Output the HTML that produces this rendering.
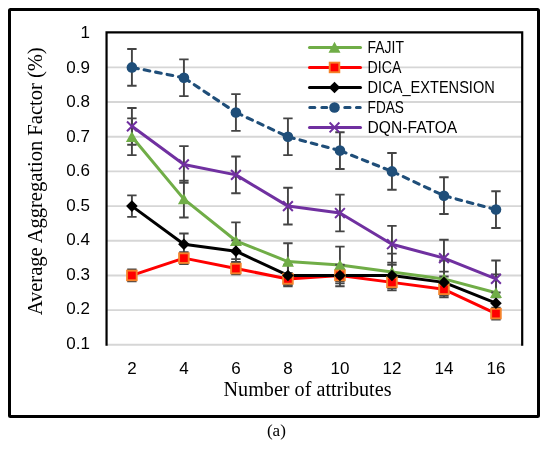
<!DOCTYPE html>
<html><head><meta charset="utf-8"><style>
html,body{margin:0;padding:0;background:#fff;}
svg{display:block;}
.t{font-family:"Liberation Sans",sans-serif;fill:#000;}
.s{font-family:"Liberation Serif",serif;fill:#000;}
</style></head><body>
<svg width="550" height="450" viewBox="0 0 550 450">
<rect width="550" height="450" fill="#fff"/>

<rect x="9.5" y="9.5" width="529" height="407" fill="none" stroke="#000" stroke-width="3" rx="1"/>
<path d="M106.5,344.80H522.2 M106.5,310.12H522.2 M106.5,275.44H522.2 M106.5,240.77H522.2 M106.5,206.09H522.2 M106.5,171.41H522.2 M106.5,136.73H522.2 M106.5,102.06H522.2 M106.5,67.38H522.2" stroke="#D6D6D6" stroke-width="1.9" fill="none"/>
<path d="M106.55,345.8 V32.35 H522.2 V345.8" stroke="#000" stroke-width="2.2" fill="none"/>
<text class="t" x="90" y="348.80" font-size="17" text-anchor="end">0.1</text>
<text class="t" x="90" y="314.29" font-size="17" text-anchor="end">0.2</text>
<text class="t" x="90" y="279.78" font-size="17" text-anchor="end">0.3</text>
<text class="t" x="90" y="245.27" font-size="17" text-anchor="end">0.4</text>
<text class="t" x="90" y="210.76" font-size="17" text-anchor="end">0.5</text>
<text class="t" x="90" y="176.24" font-size="17" text-anchor="end">0.6</text>
<text class="t" x="90" y="141.73" font-size="17" text-anchor="end">0.7</text>
<text class="t" x="90" y="107.22" font-size="17" text-anchor="end">0.8</text>
<text class="t" x="90" y="72.71" font-size="17" text-anchor="end">0.9</text>
<text class="t" x="90" y="38.20" font-size="17" text-anchor="end">1</text>
<text class="t" x="131.90" y="374" font-size="17" text-anchor="middle">2</text>
<text class="t" x="183.91" y="374" font-size="17" text-anchor="middle">4</text>
<text class="t" x="235.92" y="374" font-size="17" text-anchor="middle">6</text>
<text class="t" x="287.93" y="374" font-size="17" text-anchor="middle">8</text>
<text class="t" x="339.94" y="374" font-size="17" text-anchor="middle">10</text>
<text class="t" x="391.95" y="374" font-size="17" text-anchor="middle">12</text>
<text class="t" x="443.96" y="374" font-size="17" text-anchor="middle">14</text>
<text class="t" x="495.97" y="374" font-size="17" text-anchor="middle">16</text>
<text class="s" x="223.5" y="396.3" font-size="20" textLength="168" lengthAdjust="spacingAndGlyphs">Number of attributes</text>
<text class="s" transform="translate(42.4,315.3) rotate(-90)" x="0" y="0" font-size="20" textLength="268" lengthAdjust="spacingAndGlyphs">Average Aggregation Factor (%)</text>
<text class="s" x="276.4" y="436.2" font-size="16.6" text-anchor="middle" textLength="19" lengthAdjust="spacingAndGlyphs">(a)</text>
<polyline points="131.90,136.73 183.91,199.15 235.92,240.77 287.93,261.57 339.94,265.04 391.95,271.98 443.96,278.91 495.97,292.78" fill="none" stroke="#70AD47" stroke-width="3.0" stroke-linejoin="round"/>
<polyline points="131.90,275.44 183.91,258.11 235.92,268.51 287.93,278.91 339.94,275.44 391.95,282.38 443.96,289.32 495.97,313.59" fill="none" stroke="#FF0000" stroke-width="3.0" stroke-linejoin="round"/>
<polyline points="131.90,206.09 183.91,244.23 235.92,251.17 287.93,275.44 339.94,275.44 391.95,275.44 443.96,282.38 495.97,303.19" fill="none" stroke="#000000" stroke-width="3.0" stroke-linejoin="round"/>
<path d="M131.90,67.38L183.91,77.78 M183.91,77.78L235.92,112.46 M235.92,112.46L287.93,136.73 M287.93,136.73L339.94,150.60 M339.94,150.60L391.95,171.41 M391.95,171.41L443.96,195.69 M443.96,195.69L495.97,209.56" fill="none" stroke="#1F4E79" stroke-width="3.1" stroke-linecap="round" stroke-dasharray="5.7 6" stroke-dashoffset="-0.8"/>
<polyline points="131.90,126.33 183.91,164.48 235.92,174.88 287.93,206.09 339.94,213.02 391.95,244.23 443.96,258.11 495.97,278.91" fill="none" stroke="#7030A0" stroke-width="3.0" stroke-linejoin="round"/>
<path d="M131.90,118.35V155.11M127.20,118.35H136.60M127.20,155.11H136.60 M183.91,180.77V217.53M179.21,180.77H188.61M179.21,217.53H188.61 M235.92,222.39V259.15M231.22,222.39H240.62M231.22,259.15H240.62 M287.93,243.19V279.95M283.23,243.19H292.63M283.23,279.95H292.63 M339.94,246.66V283.42M335.24,246.66H344.64M335.24,283.42H344.64 M391.95,253.60V290.36M387.25,253.60H396.65M387.25,290.36H396.65 M443.96,260.53V297.29M439.26,260.53H448.66M439.26,297.29H448.66 M495.97,274.40V311.16M491.27,274.40H500.67M491.27,311.16H500.67" stroke="#444444" stroke-width="1.9" fill="none"/>
<path d="M131.90,269.55V281.34M127.20,269.55H136.60M127.20,281.34H136.60 M183.91,252.21V264.00M179.21,252.21H188.61M179.21,264.00H188.61 M235.92,262.61V274.40M231.22,262.61H240.62M231.22,274.40H240.62 M287.93,273.02V284.81M283.23,273.02H292.63M283.23,284.81H292.63 M339.94,269.55V281.34M335.24,269.55H344.64M335.24,281.34H344.64 M391.95,276.48V288.28M387.25,276.48H396.65M387.25,288.28H396.65 M443.96,283.42V295.21M439.26,283.42H448.66M439.26,295.21H448.66 M495.97,307.69V319.49M491.27,307.69H500.67M491.27,319.49H500.67" stroke="#444444" stroke-width="1.9" fill="none"/>
<path d="M131.90,195.34V216.84M127.20,195.34H136.60M127.20,216.84H136.60 M183.91,233.48V254.98M179.21,233.48H188.61M179.21,254.98H188.61 M235.92,240.42V261.92M231.22,240.42H240.62M231.22,261.92H240.62 M287.93,264.69V286.19M283.23,264.69H292.63M283.23,286.19H292.63 M339.94,264.69V286.19M335.24,264.69H344.64M335.24,286.19H344.64 M391.95,264.69V286.19M387.25,264.69H396.65M387.25,286.19H396.65 M443.96,271.63V293.13M439.26,271.63H448.66M439.26,293.13H448.66 M495.97,292.44V313.94M491.27,292.44H500.67M491.27,313.94H500.67" stroke="#444444" stroke-width="1.9" fill="none"/>
<path d="M131.90,49.00V85.76M127.20,49.00H136.60M127.20,85.76H136.60 M183.91,59.40V96.16M179.21,59.40H188.61M179.21,96.16H188.61 M235.92,94.08V130.84M231.22,94.08H240.62M231.22,130.84H240.62 M287.93,118.35V155.11M283.23,118.35H292.63M283.23,155.11H292.63 M339.94,132.23V168.98M335.24,132.23H344.64M335.24,168.98H344.64 M391.95,153.03V189.79M387.25,153.03H396.65M387.25,189.79H396.65 M443.96,177.31V214.06M439.26,177.31H448.66M439.26,214.06H448.66 M495.97,191.18V227.94M491.27,191.18H500.67M491.27,227.94H500.67" stroke="#444444" stroke-width="1.9" fill="none"/>
<path d="M131.90,107.95V144.71M127.20,107.95H136.60M127.20,144.71H136.60 M183.91,146.10V182.85M179.21,146.10H188.61M179.21,182.85H188.61 M235.92,156.50V193.26M231.22,156.50H240.62M231.22,193.26H240.62 M287.93,187.71V224.47M283.23,187.71H292.63M283.23,224.47H292.63 M339.94,194.65V231.40M335.24,194.65H344.64M335.24,231.40H344.64 M391.95,225.86V262.61M387.25,225.86H396.65M387.25,262.61H396.65 M443.96,239.73V276.48M439.26,239.73H448.66M439.26,276.48H448.66 M495.97,260.53V297.29M491.27,260.53H500.67M491.27,297.29H500.67" stroke="#444444" stroke-width="1.9" fill="none"/>
<path d="M131.90,131.13 L137.90,141.93 L125.90,141.93 Z" fill="#70AD47"/>
<path d="M183.91,193.55 L189.91,204.35 L177.91,204.35 Z" fill="#70AD47"/>
<path d="M235.92,235.17 L241.92,245.97 L229.92,245.97 Z" fill="#70AD47"/>
<path d="M287.93,255.97 L293.93,266.77 L281.93,266.77 Z" fill="#70AD47"/>
<path d="M339.94,259.44 L345.94,270.24 L333.94,270.24 Z" fill="#70AD47"/>
<path d="M391.95,266.38 L397.95,277.18 L385.95,277.18 Z" fill="#70AD47"/>
<path d="M443.96,273.31 L449.96,284.11 L437.96,284.11 Z" fill="#70AD47"/>
<path d="M495.97,287.18 L501.97,297.98 L489.97,297.98 Z" fill="#70AD47"/>
<rect x="127.10" y="270.64" width="9.6" height="9.6" fill="#FF0000" stroke="#F5822A" stroke-width="1.9"/>
<rect x="179.11" y="253.31" width="9.6" height="9.6" fill="#FF0000" stroke="#F5822A" stroke-width="1.9"/>
<rect x="231.12" y="263.71" width="9.6" height="9.6" fill="#FF0000" stroke="#F5822A" stroke-width="1.9"/>
<rect x="283.13" y="274.11" width="9.6" height="9.6" fill="#FF0000" stroke="#F5822A" stroke-width="1.9"/>
<rect x="335.14" y="270.64" width="9.6" height="9.6" fill="#FF0000" stroke="#F5822A" stroke-width="1.9"/>
<rect x="387.15" y="277.58" width="9.6" height="9.6" fill="#FF0000" stroke="#F5822A" stroke-width="1.9"/>
<rect x="439.16" y="284.52" width="9.6" height="9.6" fill="#FF0000" stroke="#F5822A" stroke-width="1.9"/>
<rect x="491.17" y="308.79" width="9.6" height="9.6" fill="#FF0000" stroke="#F5822A" stroke-width="1.9"/>
<path d="M131.90,200.29 L137.70,206.09 L131.90,211.89 L126.10,206.09 Z" fill="#000000"/>
<path d="M183.91,238.43 L189.71,244.23 L183.91,250.03 L178.11,244.23 Z" fill="#000000"/>
<path d="M235.92,245.37 L241.72,251.17 L235.92,256.97 L230.12,251.17 Z" fill="#000000"/>
<path d="M287.93,269.64 L293.73,275.44 L287.93,281.24 L282.13,275.44 Z" fill="#000000"/>
<path d="M339.94,269.64 L345.74,275.44 L339.94,281.24 L334.14,275.44 Z" fill="#000000"/>
<path d="M391.95,269.64 L397.75,275.44 L391.95,281.24 L386.15,275.44 Z" fill="#000000"/>
<path d="M443.96,276.58 L449.76,282.38 L443.96,288.18 L438.16,282.38 Z" fill="#000000"/>
<path d="M495.97,297.39 L501.77,303.19 L495.97,308.99 L490.17,303.19 Z" fill="#000000"/>
<circle cx="131.90" cy="67.38" r="5.3" fill="#1F4E79"/>
<circle cx="183.91" cy="77.78" r="5.3" fill="#1F4E79"/>
<circle cx="235.92" cy="112.46" r="5.3" fill="#1F4E79"/>
<circle cx="287.93" cy="136.73" r="5.3" fill="#1F4E79"/>
<circle cx="339.94" cy="150.60" r="5.3" fill="#1F4E79"/>
<circle cx="391.95" cy="171.41" r="5.3" fill="#1F4E79"/>
<circle cx="443.96" cy="195.69" r="5.3" fill="#1F4E79"/>
<circle cx="495.97" cy="209.56" r="5.3" fill="#1F4E79"/>
<path d="M127.00,121.43 L136.80,131.23 M136.80,121.43 L127.00,131.23" stroke="#7030A0" stroke-width="2" fill="none"/>
<path d="M179.01,159.58 L188.81,169.38 M188.81,159.58 L179.01,169.38" stroke="#7030A0" stroke-width="2" fill="none"/>
<path d="M231.02,169.98 L240.82,179.78 M240.82,169.98 L231.02,179.78" stroke="#7030A0" stroke-width="2" fill="none"/>
<path d="M283.03,201.19 L292.83,210.99 M292.83,201.19 L283.03,210.99" stroke="#7030A0" stroke-width="2" fill="none"/>
<path d="M335.04,208.12 L344.84,217.92 M344.84,208.12 L335.04,217.92" stroke="#7030A0" stroke-width="2" fill="none"/>
<path d="M387.05,239.33 L396.85,249.13 M396.85,239.33 L387.05,249.13" stroke="#7030A0" stroke-width="2" fill="none"/>
<path d="M439.06,253.21 L448.86,263.01 M448.86,253.21 L439.06,263.01" stroke="#7030A0" stroke-width="2" fill="none"/>
<path d="M491.07,274.01 L500.87,283.81 M500.87,274.01 L491.07,283.81" stroke="#7030A0" stroke-width="2" fill="none"/>
<line x1="309.5" y1="47.45" x2="360.5" y2="47.45" stroke="#70AD47" stroke-width="3.0" stroke-linecap="round"/>
<path d="M334.50,41.85 L340.50,52.65 L328.50,52.65 Z" fill="#70AD47"/>
<text class="t" x="367.6" y="52.55" font-size="16.5" textLength="36.3" lengthAdjust="spacingAndGlyphs">FAJIT</text>
<line x1="309.5" y1="67.45" x2="360.5" y2="67.45" stroke="#FF0000" stroke-width="3.0" stroke-linecap="round"/>
<rect x="329.70" y="62.65" width="9.6" height="9.6" fill="#FF0000" stroke="#F5822A" stroke-width="1.9"/>
<text class="t" x="367.6" y="72.55" font-size="16.5" textLength="33.8" lengthAdjust="spacingAndGlyphs">DICA</text>
<line x1="309.5" y1="87.45" x2="360.5" y2="87.45" stroke="#000000" stroke-width="3.0" stroke-linecap="round"/>
<path d="M334.50,81.65 L340.30,87.45 L334.50,93.25 L328.70,87.45 Z" fill="#000000"/>
<text class="t" x="367.6" y="92.55" font-size="16.5" textLength="127.2" lengthAdjust="spacingAndGlyphs">DICA_EXTENSION</text>
<path d="M309.8,107.45H314.8M321.9,107.45H326.7M344.8,107.45H350.0M356.5,107.45H360.2" stroke="#1F4E79" stroke-width="3.1" stroke-linecap="round" fill="none"/>
<circle cx="334.50" cy="107.45" r="5.3" fill="#1F4E79"/>
<text class="t" x="367.6" y="112.55" font-size="16.5" textLength="36.3" lengthAdjust="spacingAndGlyphs">FDAS</text>
<line x1="309.5" y1="127.45" x2="360.5" y2="127.45" stroke="#7030A0" stroke-width="3.0" stroke-linecap="round"/>
<path d="M329.60,122.55 L339.40,132.35 M339.40,122.55 L329.60,132.35" stroke="#7030A0" stroke-width="2" fill="none"/>
<text class="t" x="367.6" y="132.55" font-size="16.5" textLength="89.6" lengthAdjust="spacingAndGlyphs">DQN-FATOA</text>
</svg>
</body></html>
